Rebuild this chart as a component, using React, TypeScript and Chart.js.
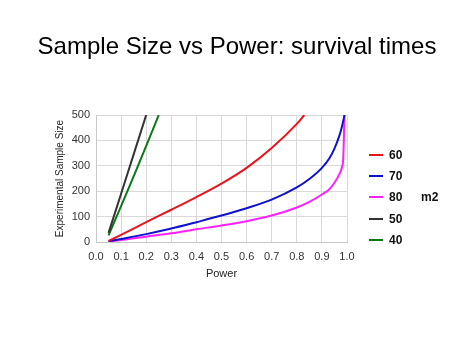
import React, { useEffect, useRef } from "react";
import { Chart, registerables } from "chart.js";

Chart.register(...registerables);

const titleText = "Sample Size vs Power: survival times";
const legendNote = "m2";

const seriesLabels = ["60", "70", "80", "50", "40"];
const seriesColors = ["#e8141c", "#1010d0", "#ff20ff", "#333333", "#0a7a14"];

const power60 = [0.05, 0.1, 0.2, 0.3, 0.4, 0.5, 0.6, 0.7, 0.8, 0.83];
const size60 = [4, 28, 78, 127, 177, 230, 292, 370, 465, 500];

const power70 = [0.05, 0.1, 0.2, 0.3, 0.4, 0.5, 0.6, 0.7, 0.8, 0.85, 0.9, 0.93, 0.95, 0.97, 0.98, 0.99];
const size70 = [3, 12, 31, 53, 78, 104, 133, 167, 215, 248, 292, 330, 368, 420, 455, 500];

const power80 = [0.05, 0.1, 0.2, 0.3, 0.4, 0.5, 0.6, 0.7, 0.8, 0.85, 0.9, 0.93, 0.95, 0.97, 0.98, 0.985, 0.99];
const size80 = [2, 8, 21, 34, 50, 65, 82, 104, 136, 158, 187, 208, 233, 268, 295, 330, 500];

const power50 = [0.05, 0.1, 0.15, 0.2];
const size50 = [36, 190, 345, 500];

const power40 = [0.05, 0.1, 0.15, 0.2, 0.25];
const size40 = [26, 141, 258, 378, 500];

const xTicks = [0, 0.1, 0.2, 0.3, 0.4, 0.5, 0.6, 0.7, 0.8, 0.9, 1.0];
const yTicks = [0, 100, 200, 300, 400, 500];

const allPowers = [power60, power70, power80, power50, power40];
const allSizes = [size60, size70, size80, size50, size40];

const FONT = "'Liberation Sans', Arial, sans-serif";

const overlayPlugin = {
  id: "overlay",
  afterDraw(chart: any) {
    const ctx = chart.ctx;
    ctx.save();
    // title
    ctx.fillStyle = "#000000";
    ctx.font = `24px ${FONT}`;
    ctx.textAlign = "center";
    ctx.textBaseline = "middle";
    ctx.fillText(titleText, 237, 47);
    // legend
    const ys = [155, 176, 197, 219, 240];
    ctx.font = `bold 12px ${FONT}`;
    ctx.textAlign = "left";
    chart.data.datasets.forEach((ds: any, i: number) => {
      const y = ys[i];
      ctx.strokeStyle = ds.borderColor;
      ctx.lineWidth = 2;
      ctx.beginPath();
      ctx.moveTo(369, y);
      ctx.lineTo(383, y);
      ctx.stroke();
      ctx.fillStyle = "#111111";
      ctx.fillText(ds.label, 389, y + 0.5);
    });
    ctx.fillText(legendNote, 421, ys[2] + 0.5);
    ctx.restore();
  },
};

export default function App() {
  const ref = useRef<HTMLCanvasElement | null>(null);
  useEffect(() => {
    document.body.style.margin = "0";
    const canvas = ref.current!;
    const chart = new Chart(canvas, {
      type: "line",
      data: {
        datasets: seriesLabels.map((label, i) => ({
          label,
          data: allPowers[i].map((p, j) => ({ x: p, y: allSizes[i][j] })),
          borderColor: seriesColors[i],
          backgroundColor: seriesColors[i],
          borderWidth: 2,
          pointRadius: 0,
          fill: false,
          cubicInterpolationMode: "monotone" as const,
        })),
      },
      options: {
        animation: false,
        responsive: false,
        maintainAspectRatio: false,
        layout: { padding: { left: 52, top: 115, right: 127, bottom: 70 } },
        plugins: {
          legend: { display: false },
          title: { display: false },
          tooltip: { enabled: false },
        },
        scales: {
          x: {
            type: "linear",
            min: 0,
            max: 1,
            afterBuildTicks: (scale: any) => {
              scale.ticks = xTicks.map((v) => ({ value: v }));
            },
            afterFit: (scale: any) => {
              scale.height = 43;
            },
            ticks: {
              callback: (v: any) => Number(v).toFixed(1),
              color: "#333333",
              font: { family: FONT, size: 11 },
              maxRotation: 0,
              padding: 8,
            },
            grid: { color: "#d9d9d9", drawTicks: false },
            border: { color: "#c8c8c8" },
            title: {
              display: true,
              text: "Power",
              color: "#222222",
              font: { family: FONT, size: 11 },
              padding: { top: 4, bottom: 4 },
            },
          },
          y: {
            type: "linear",
            min: 0,
            max: 500,
            afterBuildTicks: (scale: any) => {
              scale.ticks = yTicks.map((v) => ({ value: v }));
            },
            afterFit: (scale: any) => {
              scale.width = 44;
            },
            ticks: {
              color: "#333333",
              font: { family: FONT, size: 11 },
              padding: 6,
            },
            grid: { color: "#d9d9d9", drawTicks: false },
            border: { color: "#c8c8c8" },
            title: {
              display: true,
              text: "Experimental Sample Size",
              color: "#222222",
              font: { family: FONT, size: 10 },
              padding: { top: 2, bottom: 2 },
            },
          },
        },
      },
      plugins: [overlayPlugin],
    });
    return () => chart.destroy();
  }, []);
  return (
    <div style={{ position: "absolute", left: 0, top: 0, width: 474, height: 355 }}>
      <canvas ref={ref} width={474} height={355} />
    </div>
  );
}
